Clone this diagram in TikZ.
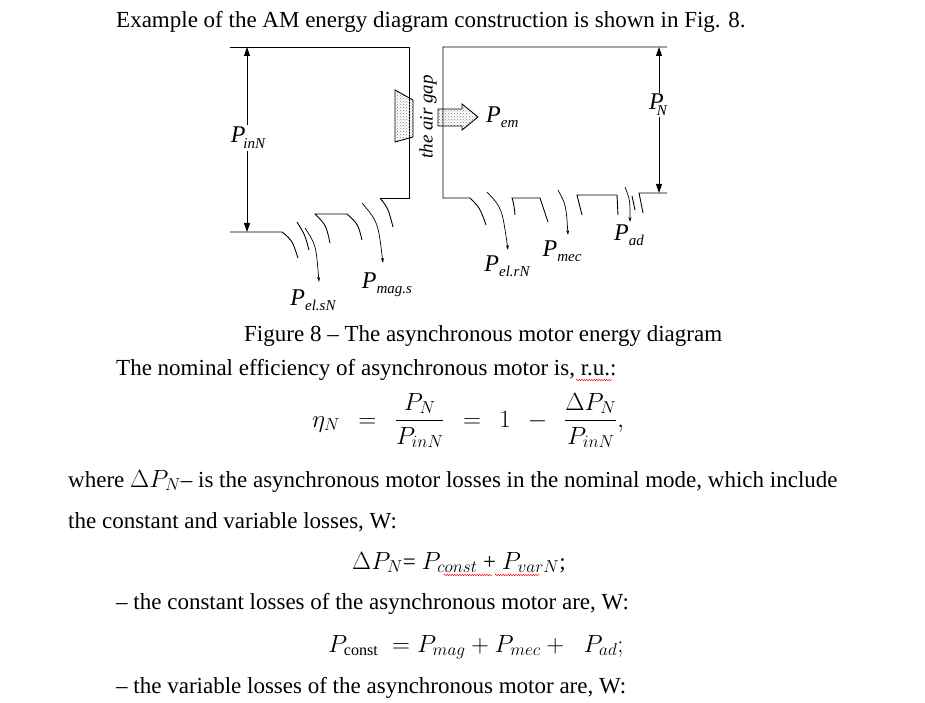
\documentclass[tikz,border=0pt]{standalone}
\usepackage{amsmath}
\usepackage{fontspec}
\setmainfont{Liberation Serif}
\usetikzlibrary{patterns,decorations.pathmorphing,arrows.meta}
\begin{document}
\begin{tikzpicture}[x=1pt,y=-1pt,
  txt/.style={anchor=base west,inner sep=0,font=\fontsize{23}{27}\selectfont},
  lbl/.style={inner sep=0,font=\fontsize{24}{26}\selectfont\itshape},
  ln/.style={line width=0.9pt},
  loss/.style={line width=0.7pt,-{Stealth[length=5pt,width=3pt]}},
  dim/.style={line width=0.9pt,{Triangle[length=9pt,width=6pt]}-{Triangle[length=9pt,width=6pt]}},
  wavy/.style={red,decorate,decoration={snake,amplitude=0.8pt,segment length=2.5pt},line width=0.4pt}]
\useasboundingbox (0,0) rectangle (925,703);
% texts
\node[txt] (t1) at (116,28) {Example of the AM energy diagram construction is shown in Fig. 8.};
\node[txt] (cap) at (244,341) {Figure 8 -- The asynchronous motor energy diagram};
\node[txt] (t2) at (116,375) {The nominal efficiency of asynchronous motor is, r.u.:};
\draw[wavy] (576,380) -- (612,380);
\node[txt] (eq1) at (312,427) {$\eta_N\ \ =\ \ \dfrac{P_N}{P_{inN}}\ \ =\ \ 1\ \ -\ \ \dfrac{\Delta P_N}{P_{inN}},$};
\node[txt] (t3) at (68,487) {where $\Delta P_N$-- is the asynchronous motor losses in the nominal mode, which include};
\node[txt] (t4) at (68,528) {the constant and variable losses, W:};
\node[txt] (eq2) at (352,569) {$\Delta P_N$= $P_{const}$ + $P_{varN}$;};
\draw[wavy] (444,575) -- (492,575);
\draw[wavy] (495,575) -- (540,575);
\node[txt] (t5) at (116,609) {-- the constant losses of the asynchronous motor are, W:};
\node[txt] (eq3) at (328,652) {$P_{\mathrm{const}}\;=P_{mag}+P_{mec}+\;\;P_{ad};$};
\node[txt] (t6) at (116,693) {-- the variable losses of the asynchronous motor are, W:};
% left block
\draw[ln] (230,47) -- (409,47) -- (409,198) -- (380,198);
\draw[ln] (380,198) .. controls (388,208) .. (393,227);
\draw[ln] (330,243) .. controls (326,225) .. (315,214) -- (347,214) .. controls (358,224) .. (362,240);
\draw[ln] (230,232) -- (282,232) .. controls (292,240) .. (298,258);
\draw[ln] (297,222) .. controls (305,235) .. (309,250);
\draw[loss] (305,228) .. controls (316,245) .. (319,282);
\draw[loss] (362,203) .. controls (378,222) .. (383,263);
\coordinate (lt) at (247,47); \coordinate (lb) at (247,232);
\draw[dim] (lt) -- (lb);
\node[lbl,fill=white,inner sep=2pt] (pin) at (248,138) {P\raisebox{-6pt}{\fontsize{15}{16}\selectfont\kern-2pt inN}};
% air gap
\draw[ln,pattern=crosshatch dots,pattern color=gray] (395,90) -- (413,100) -- (413,137) -- (395,142) -- cycle;
\node[lbl,rotate=90,font=\fontsize{19}{20}\selectfont\itshape] (gap) at (428,117) {the air gap};
\draw[ln,pattern=crosshatch dots,pattern color=gray] (438,109) -- (462,109) -- (462,104) -- (478,117) -- (462,130) -- (462,126) -- (438,126) -- cycle;
\node[lbl,anchor=west] (pem) at (486,117) {P\raisebox{-5pt}{\fontsize{15}{16}\selectfont em}};
% right block
\draw[ln] (667,47) -- (443,47) -- (443,198) -- (470,198) .. controls (480,208) .. (486,225);
\draw[loss] (487,192) .. controls (502,208) .. (508,250);
\draw[ln] (515,215) .. controls (514,205) .. (512,198) -- (540,198) -- (548,222);
\draw[loss] (558,190) .. controls (566,205) .. (568,235);
\draw[ln] (582,215) -- (577,195) -- (617,195) -- (618,215);
\draw[loss] (625,187) .. controls (630,200) .. (630,222);
\draw[ln] (667,193) -- (639,193) -- (643,213);
\draw[ln] (632,196) -- (635,210);
\coordinate (rt) at (659,47); \coordinate (rb) at (659,193);
\draw[dim] (rt) -- (rb);
\node[lbl,fill=white,inner sep=1pt] (pn) at (658,105) {P\raisebox{-6pt}{\fontsize{15}{16}\selectfont\kern-7pt N}};
% loss labels
\node[lbl] (pels) at (313,300) {P\raisebox{-5pt}{\fontsize{15}{16}\selectfont el.sN}};
\node[lbl] (pmag) at (387,285) {P\raisebox{-5pt}{\fontsize{15}{16}\selectfont mag.s}};
\node[lbl] (pelr) at (507,266) {P\raisebox{-5pt}{\fontsize{15}{16}\selectfont el.rN}};
\node[lbl] (pmec) at (562,251) {P\raisebox{-5pt}{\fontsize{15}{16}\selectfont mec}};
\node[lbl] (pad) at (629,235) {P\raisebox{-5pt}{\fontsize{15}{16}\selectfont ad}};
\end{tikzpicture}
\end{document}
